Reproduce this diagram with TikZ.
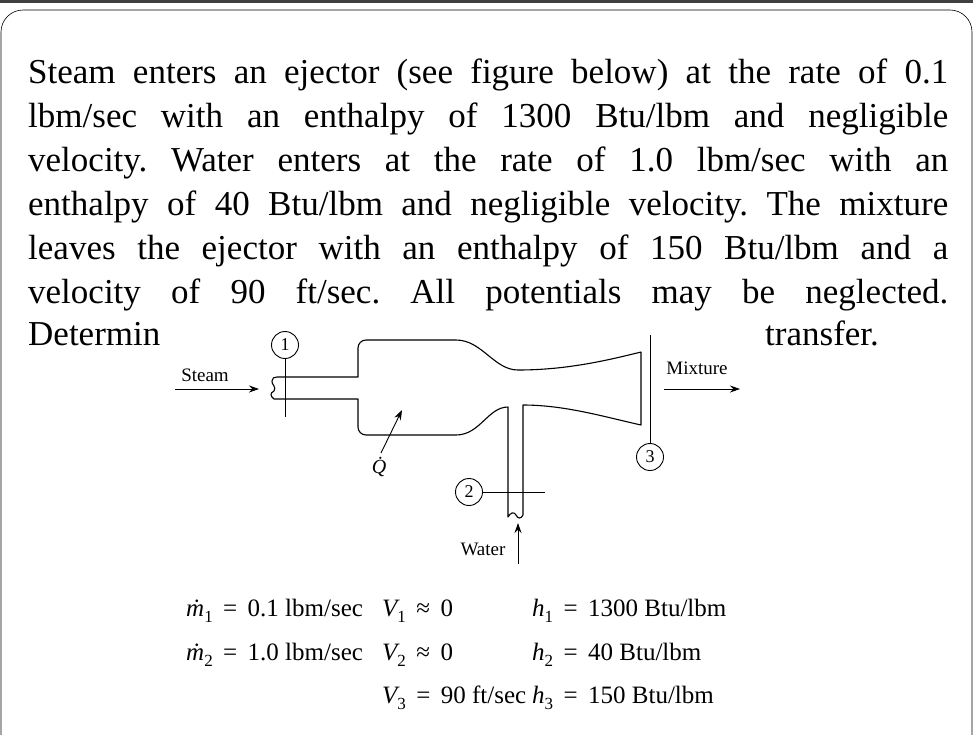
\documentclass[tikz,border=0pt]{standalone}
\usepackage{fontspec}
\setmainfont{Liberation Serif}
\usetikzlibrary{arrows.meta}
\tikzset{
 para/.style={anchor=base west, inner sep=0pt, text width=920pt, align=justify, font=\fontsize{35}{44}\selectfont\frenchspacing, execute at begin node={\parfillskip=0pt}},
 lbl/.style={font=\fontsize{19}{22}\selectfont, inner sep=0pt},
 num/.style={circle, draw, line width=0.9pt, minimum size=27pt, inner sep=0pt, font=\fontsize{18}{18}\selectfont},
 eq/.style={anchor=base west, inner sep=0pt, font=\fontsize{25}{28}\selectfont},
 fl/.style={line width=1.1pt},
 arr/.style={line width=0.9pt, -{Stealth[length=10pt,width=7pt]}}
}
\newcommand{\mysub}[1]{\raisebox{-0.25em}{\upshape\fontsize{17}{18}\selectfont #1}}
\newcommand{\myrel}[1]{\upshape\ \,#1\ \,}
\begin{document}
\begin{tikzpicture}[x=1pt,y=-1pt]
\useasboundingbox (0,0) rectangle (973,734);
\fill[black!75] (0,0) rectangle (973,2.5);
\draw[line width=0.6pt, rounded corners=22pt] (1,750) -- (1,10) -- (972,10) -- (972,750);
\node[para] (l1) at (28,83) {Steam enters an ejector (see figure below) at the rate of 0.1};
\node[para] (l2) at (28,127) {lbm/sec with an enthalpy of 1300 Btu/lbm and negligible};
\node[para] (l3) at (28,171) {velocity. Water enters at the rate of 1.0 lbm/sec with an};
\node[para] (l4) at (28,215) {enthalpy of 40 Btu/lbm and negligible velocity. The mixture};
\node[para] (l5) at (28,259) {leaves the ejector with an enthalpy of 150 Btu/lbm and a};
\node[para] (l6) at (28,303) {velocity of 90 ft/sec. All potentials may be neglected.};
\node[anchor=base west, inner sep=0pt, font=\fontsize{35}{44}\selectfont] (l7a) at (28,345) {Determin};
\node[anchor=base west, inner sep=0pt, font=\fontsize{35}{44}\selectfont] (l7b) at (765,345) {transfer.};
% ejector
\draw[fl, line join=round] (358,377) -- (358,348) arc[start angle=180,end angle=270,radius=8] -- (456,340)
 .. controls (482,340) and (494,370) .. (518,370)
 .. controls (565,370) and (605,361) .. (641,352) -- (641,425)
 .. controls (605,417) and (565,405) .. (523,405) -- (523,515)
 .. controls (521,519) and (518,519) .. (516,515) .. controls (514,511) and (510,513) .. (508,517)
 -- (508,407) .. controls (488,407) and (480,435) .. (456,435) -- (366,435) arc[start angle=90,end angle=180,radius=8] -- (358,399) -- (274,399)
 .. controls (270,396) and (270,393) .. (274,391) .. controls (277,387) and (271,384) .. (272,381) .. controls (272,378) and (274,377) .. (277,377) -- cycle;
% station markers
\node[num] (c1) at (285,345) {1};
\coordinate (c1e) at (285,417);
\draw[line width=0.9pt] (c1) -- (c1e);
\node[num] (c2) at (469,492) {2};
\coordinate (c2e) at (545,492);
\draw[line width=0.9pt] (c2) -- (c2e);
\node[num] (c3) at (650,457) {3};
\coordinate (c3e) at (650,335);
\draw[line width=0.9pt] (c3) -- (c3e);
% labels and arrows
\node[lbl] (steam) at (205,375) {Steam};
\coordinate (sa) at (175,389); \coordinate (sb) at (259,389);
\draw[arr] (sa) -- (sb);
\node[lbl] (mix) at (697,368) {Mixture};
\coordinate (ma) at (664,389); \coordinate (mb) at (740,389);
\draw[arr] (ma) -- (mb);
\node[lbl] (water) at (483,549) {Water};
\coordinate (wa) at (518,564); \coordinate (wb) at (518,523);
\draw[arr] (wa) -- (wb);
\node[lbl, font=\fontsize{20}{22}\selectfont\itshape] (q) at (379,467) {\.{Q}};
\coordinate (qb) at (402,410);
\draw[arr] (381,453) -- (qb);
% equations
\node[eq] (e1) at (186,616) {\itshape\.{m}\/\mysub{1}\myrel{=}0.1 lbm/sec};
\node[eq] (e2) at (186,660) {\itshape\.{m}\/\mysub{2}\myrel{=}1.0 lbm/sec};
\node[eq] (e3) at (382,616) {\itshape V\mysub{1}\myrel{≈}0};
\node[eq] (e4) at (382,660) {\itshape V\mysub{2}\myrel{≈}0};
\node[eq] (e5) at (382,703) {\itshape V\mysub{3}\myrel{=}90 ft/sec};
\node[eq] (e6) at (532,616) {\itshape h\mysub{1}\myrel{=}1300 Btu/lbm};
\node[eq] (e7) at (532,660) {\itshape h\mysub{2}\myrel{=}40 Btu/lbm};
\node[eq] (e8) at (532,703) {\itshape h\mysub{3}\myrel{=}150 Btu/lbm};
\end{tikzpicture}
\end{document}
